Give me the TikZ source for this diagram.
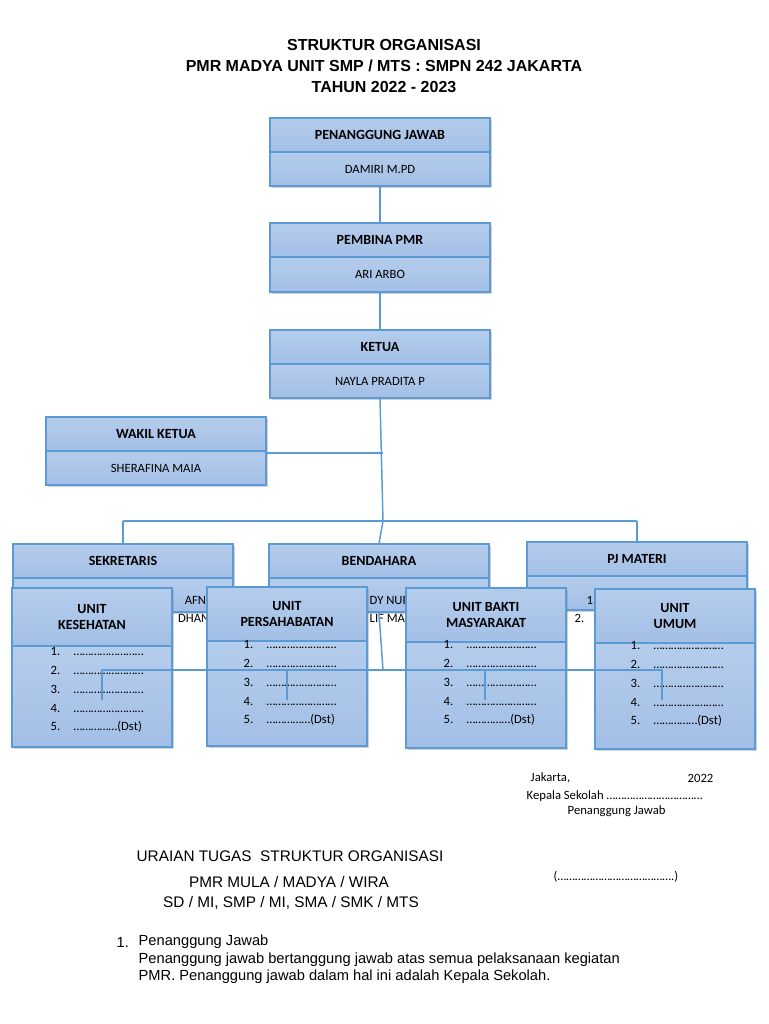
\documentclass[tikz,border=0pt]{standalone}
\usepackage{fontspec}
\setmainfont{Carlito}
\newfontfamily\arial{Liberation Sans}
\usetikzlibrary{fit,shadows}
\definecolor{bord}{HTML}{5B9BD5}
\definecolor{ftop}{HTML}{B5CDEC}
\definecolor{fbot}{HTML}{A3BFE6}
\tikzset{
 bx/.style={draw=bord,line width=0.9pt,top color=ftop,bottom color=fbot,inner sep=0pt,
   drop shadow={shadow xshift=1.5pt,shadow yshift=-1.5pt,opacity=0.35}},
 hd/.style={font=\bfseries\fontsize{10.5}{12}\selectfont,align=center},
 bd/.style={font=\fontsize{9.5}{11}\selectfont},
 li/.style={font=\fontsize{9.5}{11}\selectfont,anchor=west},
 ln/.style={draw=bord,line width=1.1pt},
 ttl/.style={font=\arial\bfseries\fontsize{12}{14}\selectfont},
 tx/.style={font=\arial\fontsize{11}{13}\selectfont,anchor=west},
 sm/.style={font=\fontsize{9.5}{11}\selectfont,anchor=west}
}
\newcommand{\mybox}[6]{% name, x1, x2, y1, ymid, y2 ; header text via #6? 
}
\begin{document}
\begin{tikzpicture}[x=0.75pt,y=-0.75pt]
\useasboundingbox (0,0) rectangle (768,1024);
\fill[white] (0,0) rectangle (768,1024);
% titles
\node[ttl] (t1) at (384,45) {STRUKTUR ORGANISASI};
\node[ttl] (t2) at (384,66) {PMR MADYA UNIT SMP / MTS : SMPN 242 JAKARTA};
\node[ttl] (t3) at (384,87) {TAHUN 2022 - 2023};
% top boxes
\node[bx,fit={(270,118)(490,152)}] (pjh) {};
\node[hd] at (pjh.center) {PENANGGUNG JAWAB};
\node[bx,fit={(270,152)(490,186)}] (pjb) {};
\node[bd] at (pjb.center) {DAMIRI M.PD};
\node[bx,fit={(270,223)(490,257)}] (pbh) {};
\node[hd] at (pbh.center) {PEMBINA PMR};
\node[bx,fit={(270,257)(490,292)}] (pbb) {};
\node[bd] at (pbb.center) {ARI ARBO};
\node[bx,fit={(270,330)(490,364)}] (kth) {};
\node[hd] at (kth.center) {KETUA};
\node[bx,fit={(270,364)(490,398)}] (ktb) {};
\node[bd] at (ktb.center) {NAYLA PRADITA P};
\node[bx,fit={(46,417)(266,451)}] (wkh) {};
\node[hd] at (wkh.center) {WAKIL KETUA};
\node[bx,fit={(46,451)(266,485)}] (wkb) {};
\node[bd] at (wkb.center) {SHERAFINA MAIA};
% connectors top
\draw[ln] (pjb.south) -- (pbh.north);
\draw[ln] (pbb.south) -- (kth.north);
\coordinate (kw) at (383,453);
\coordinate (bus) at (383,521);
\draw[ln] (ktb.south) -- (bus);
\draw[ln] (wkb.north east |- kw) -- (kw);
% second row
\node[bx,fit={(13,544)(233,578)}] (skh) {};
\node[hd] at (skh.center) {SEKRETARIS};
\node[bx,fit={(13,578)(233,612)}] (skb) {};
\node[bx,fit={(269,544)(489,578)}] (bnh) {};
\node[hd] at (bnh.center) {BENDAHARA};
\node[bx,fit={(269,578)(489,612)}] (bnb) {};
\node[bx,fit={(527,542)(747,576)}] (pmh) {};
\node[hd] at (pmh.center) {PJ MATERI};
\node[bx,fit={(527,576)(747,610)}] (pmb) {};
\node[bd,anchor=east] (s1) at (214,600) {AFNI};
\node[bd,anchor=east] (s2) at (214,618) {DHAN};
\node[bd,anchor=west] (b1) at (365,600) {DY NUR};
\node[bd,anchor=west] (b2) at (365,618) {LIF MA};
\node[bd,anchor=west] (m1) at (582,600) {1.};
\node[bd,anchor=west] (m2) at (570,618) {2.};
\draw[ln] (skh.north |- bus) -- (bnh.north |- bus) -- (pmh.north |- bus);
\draw[ln] (skh.north |- bus) -- (skh.north);
\draw[ln] (bus) -- (bnh.north);
\draw[ln] (pmh.north |- bus) -- (pmh.north);
% units
\node[bx,fit={(12,588)(172,646)}] (u1h) {};
\node[hd] at (u1h.center) {UNIT\\KESEHATAN};
\node[bx,fit={(12,646)(172,747)}] (u1b) {};
\node[bx,fit={(207,587)(367,641)}] (u2h) {};
\node[hd] at (u2h.center) {UNIT\\PERSAHABATAN};
\node[bx,fit={(207,641)(367,746)}] (u2b) {};
\node[bx,fit={(406,588)(566,642)}] (u3h) {};
\node[hd] at (u3h.center) {UNIT BAKTI\\MASYARAKAT};
\node[bx,fit={(406,642)(566,748)}] (u3b) {};
\node[bx,fit={(595,589)(755,643)}] (u4h) {};
\node[hd] at (u4h.center) {UNIT\\UMUM};
\node[bx,fit={(595,643)(755,749)}] (u4b) {};
\foreach \n/\x/\y in {a/46/651,b/239/644,c/439/644,d/626/645}{
  \foreach \i in {1,2,3,4}{
    \node[li] (l\n\i) at (\x,\y+19*\i-19) {\i.\hspace{10pt}……………………};
  }
  \node[li] (l\n5) at (\x,\y+76) {5.\hspace{10pt}……………(Dst)};
}
% lower connector
\coordinate (lb) at (383,670);
\draw[ln] (bnb.south) -- (lb);
\draw[ln] (102,700) -- (102,670) -- (662,670) -- (662,700);
\draw[ln] (287,670) -- (287,700);
\draw[ln] (485,670) -- (485,700);
% signature
\node[sm] (j1) at (526,778) {Jakarta,};
\node[sm] (j2) at (683,778) {2022};
\node[sm] (j3) at (522,796) {Kepala Sekolah ……………………………};
\node[sm] (j4) at (563,811) {Penanggung Jawab};
\node[sm] (j5) at (549,877) {(………………………………….)};
% description
\node[font=\arial\fontsize{11.5}{13}\selectfont] (d1) at (290,856) {URAIAN TUGAS\ \ STRUKTUR ORGANISASI};
\node[font=\arial\fontsize{11.5}{13}\selectfont] (d2) at (289,882) {PMR MULA / MADYA / WIRA};
\node[font=\arial\fontsize{11.5}{13}\selectfont] (d3) at (291,903) {SD / MI, SMP / MI, SMA / SMK / MTS};
\node[tx] (n1) at (112,942) {1.};
\node[tx] (n2) at (134,942) {Penanggung Jawab};
\node[tx] (n3) at (134,960) {Penanggung jawab bertanggung jawab atas semua pelaksanaan kegiatan};
\node[tx] (n4) at (134,977) {PMR. Penanggung jawab dalam hal ini adalah Kepala Sekolah.};
\end{tikzpicture}
\end{document}
